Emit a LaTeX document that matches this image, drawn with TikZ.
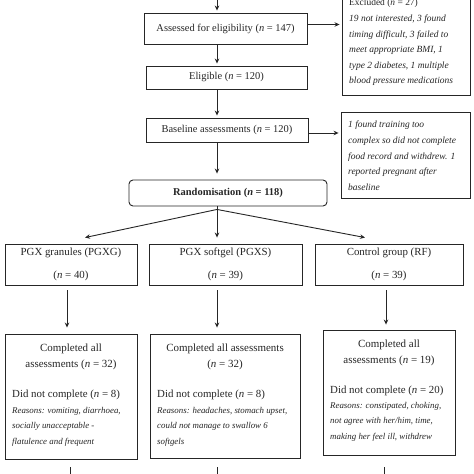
\documentclass[tikz,border=0pt]{standalone}
\usepackage{fontspec}
\setmainfont{Liberation Serif}
\usetikzlibrary{arrows.meta}
\definecolor{ink}{HTML}{262626}
\begin{document}
\begin{tikzpicture}[x=1bp,y=-1bp,
  box/.style={draw=ink, line width=0.9bp, rectangle, inner sep=0pt, align=center, text=ink},
  arr/.style={draw=ink, line width=0.9bp, -{Stealth[length=5bp,width=4.5bp]}},
  ln/.style={draw=ink, line width=0.9bp},
  mainfont/.style={font=\fontsize{10.5}{16}\selectfont},
  groupfont/.style={font=\fontsize{10.9}{23}\selectfont},
  headfont/.style={font=\fontsize{11}{16}\selectfont},
  dnfont/.style={font=\fontsize{10.9}{16}\selectfont},
  txt/.style={text=ink, inner sep=0pt},
  notes/.style={text=ink, inner sep=0pt, align=left, anchor=north west, font=\fontsize{9.5}{15.7}\selectfont\itshape},
  reasons/.style={text=ink, inner sep=0pt, align=left, anchor=north west, font=\fontsize{8.9}{15.4}\selectfont\itshape}]
\useasboundingbox (0,0) rectangle (474,474);
\clip (0,0) rectangle (474,474);
\fill[white] (0,0) rectangle (474,474);
\coordinate (spine) at (217,-6);

% main column
\node[box, mainfont, minimum width=163bp, minimum height=31bp] (assess) at (225.5,28.5) {Assessed for eligibility (\textit{n} = 147)};
\node[box, mainfont, minimum width=161bp, minimum height=23bp] (elig) at (226.5,77.5) {Eligible (\textit{n} = 120)};
\node[box, mainfont, minimum width=162bp, minimum height=24bp] (base) at (227,130) {Baseline assessments (\textit{n} = 120)};
\node[box, mainfont, rounded corners=4bp, minimum width=198bp, minimum height=26bp] (rand) at (228,193) {\textbf{Randomisation (\textit{n} = 118)}};

% side boxes
\node[box, minimum width=128bp, minimum height=107bp] (excl) at (406,41.5) {};
\node[notes] (excltext) at (349,-1) {\upshape Excluded (\textit{n} = 27)\\19 not interested, 3 found\\timing difficult, 3 failed to\\meet appropriate BMI, 1\\type 2 diabetes, 1 multiple\\blood pressure medications};
\node[box, minimum width=129bp, minimum height=86bp] (side) at (405.5,155) {};
\node[notes] (sidetext) at (348,121) {1 found training too\\complex so did not complete\\food record and withdrew. 1\\reported pregnant after\\baseline};

% groups
\node[box, groupfont, minimum width=132bp, minimum height=41bp] (g1) at (71,264.5) {PGX granules (PGXG)\\(\textit{n} = 40)};
\node[box, groupfont, minimum width=153bp, minimum height=41bp] (g2) at (225.5,264.5) {PGX softgel (PGXS)\\(\textit{n} = 39)};
\node[box, groupfont, minimum width=148bp, minimum height=41bp] (g3) at (389,264.5) {Control group (RF)\\(\textit{n} = 39)};

% outcome boxes
\node[box, minimum width=132bp, minimum height=125bp] (b1) at (71,396.5) {};
\node[txt, headfont, align=center, anchor=north] (b1a) at (71,344) {Completed all\\assessments (\textit{n} = 32)};
\node[txt, dnfont, anchor=north west] (b1b) at (12,390) {Did not complete (\textit{n} = 8)};
\node[reasons] (b1c) at (12,407) {Reasons: vomiting, diarrhoea,\\socially unacceptable -\\flatulence and frequent};

\node[box, minimum width=150bp, minimum height=124bp] (b2) at (225,396) {};
\node[txt, headfont, align=center, anchor=north] (b2a) at (225,344) {Completed all assessments\\(\textit{n} = 32)};
\node[txt, dnfont, anchor=north west] (b2b) at (157,390) {Did not complete (\textit{n} = 8)};
\node[reasons] (b2c) at (157,407) {Reasons: headaches, stomach upset,\\could not manage to swallow 6\\softgels};

\node[box, minimum width=132bp, minimum height=125bp] (b3) at (389,392.5) {};
\node[txt, headfont, align=center, anchor=north] (b3a) at (389,340) {Completed all\\assessments (\textit{n} = 19)};
\node[txt, dnfont, anchor=north west] (b3b) at (330,386) {Did not complete (\textit{n} = 20)};
\node[reasons] (b3c) at (330,402) {Reasons: constipated, choking,\\not agree with her/him, time,\\making her feel ill, withdrew};

% connectors
\draw[arr] (spine) -- ([yshift=2bp]spine |- assess.north);
\draw[arr] (spine |- assess.south) -- ([yshift=2bp]spine |- elig.north);
\draw[arr] (spine |- elig.south) -- ([yshift=2bp]spine |- base.north);
\draw[arr] (spine |- base.south) -- ([yshift=6bp]spine |- rand.north);
\draw[arr] ([yshift=4bp]assess.east) -- ([yshift=4bp,xshift=-2bp]assess.east -| excl.west);
\draw[arr] ([yshift=-3bp]base.east) -- ([yshift=-3bp,xshift=-2bp]base.east -| side.west);

\coordinate (br) at ([yshift=-3bp]spine |- rand.south);
\draw[ln] (spine |- rand.south) -- (br);
\draw[arr] (br) -- ([xshift=14bp,yshift=6bp]g1.north);
\draw[arr] (br) -- ([yshift=6bp]spine |- g2.north);
\draw[arr] (br) -- ([xshift=-24bp,yshift=6bp]g3.north);

\draw[arr] ([xshift=-4bp,yshift=-5bp]g1.south) -- ([xshift=-4bp,yshift=6bp]b1.north);
\draw[arr] ([yshift=-5bp]spine |- g2.south) -- ([yshift=6bp]spine |- b2.north);
\draw[arr] ([xshift=-3bp,yshift=-5bp]g3.south) -- ([xshift=-3bp,yshift=5bp]b3.north);

\draw[ln] ([xshift=-1bp,yshift=-8bp]b1.south) -- ++(0,20);
\draw[ln] ([yshift=-9bp]spine |- b2.south) -- ++(0,20);
\draw[ln] ([xshift=-5bp,yshift=-12bp]b3.south) -- ++(0,20);
\end{tikzpicture}
\end{document}
